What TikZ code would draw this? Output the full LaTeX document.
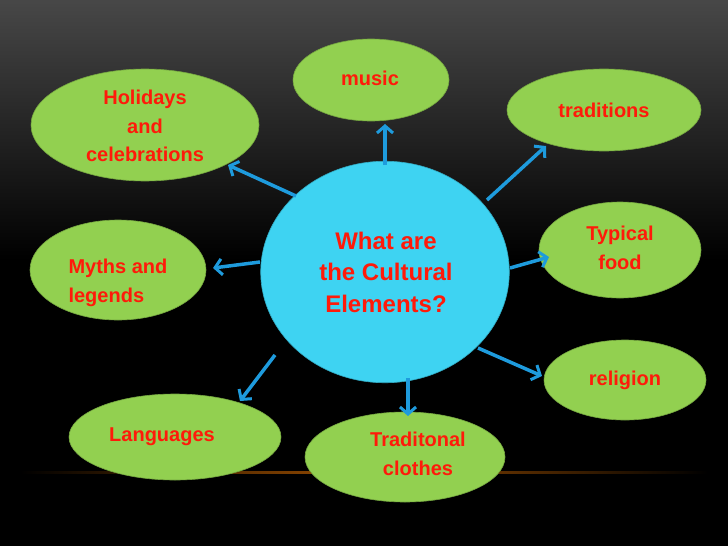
\documentclass[tikz,border=0pt]{standalone}
\usepackage{fontspec}
\setmainfont{Liberation Sans}
\usetikzlibrary{shapes.geometric,arrows.meta}
\definecolor{gr}{HTML}{92D050}
\definecolor{cy}{HTML}{3ED3F2}
\definecolor{ar}{HTML}{1E9BDD}
\definecolor{tx}{HTML}{FF1A0A}
\tikzset{
 el/.style={ellipse,fill=gr,draw=gr!80!black,line width=0.6pt,inner sep=0pt},
 lb/.style={text=tx,font=\fontsize{20}{28.5}\selectfont\bfseries,align=center},
 ar/.style={draw=ar,line width=3.5pt,-{Straight Barb[length=7pt,width=16pt,line width=3pt]}}
}
\begin{document}
\begin{tikzpicture}[x=1pt,y=-1pt]
\fill[black] (0,0) rectangle (728,546);
\shade[top color=black!72,bottom color=black] (0,0) rectangle (728,260);
\useasboundingbox (0,0) rectangle (728,546);
\shade[left color=black,right color=black,middle color=orange!60!black] (20,471) rectangle (708,473);
\node[el,minimum width=228pt,minimum height=112pt] (hol) at (145,125) {};
\node[lb] at (145,126) {Holidays\\and\\celebrations};
\node[el,minimum width=156pt,minimum height=82pt] (mus) at (371,80) {};
\node[lb] at (370,78) {music};
\node[el,minimum width=194pt,minimum height=82pt] (tra) at (604,110) {};
\node[lb] at (604,110) {traditions};
\node[el,minimum width=162pt,minimum height=96pt] (foo) at (620,250) {};
\node[lb] at (620,248) {Typical\\food};
\node[el,minimum width=176pt,minimum height=100pt] (myt) at (118,270) {};
\node[lb,align=left] at (118,283) {Myths and\\ legends};
\node[el,minimum width=162pt,minimum height=80pt] (rel) at (625,380) {};
\node[lb] at (625,380) {religion};
\node[el,minimum width=212pt,minimum height=86pt] (lan) at (175,437) {};
\node[lb] at (162,437) {Languages};
\node[el,minimum width=200pt,minimum height=90pt] (clo) at (405,457) {};
\node[lb] at (418,454) {Traditonal\\clothes};
\node[circle,fill=cy,draw=cy!80!black,line width=0.6pt,minimum width=226pt,xscale=1.1,yscale=0.98] (c) at (385,272) {};
\node[lb,font=\fontsize{24}{31.5}\selectfont\bfseries] at (386,272) {What are\\the Cultural\\Elements?};
\coordinate (a1) at (385,165); \coordinate (b1) at (385,124);
\coordinate (a2) at (296,196); \coordinate (b2) at (228,165);
\coordinate (a3) at (487,200); \coordinate (b3) at (546,146);
\coordinate (a4) at (510,268); \coordinate (b4) at (549,257);
\coordinate (a5) at (260,262); \coordinate (b5) at (213,268);
\coordinate (a6) at (478,348); \coordinate (b6) at (542,376);
\coordinate (a7) at (275,355); \coordinate (b7) at (240,401);
\coordinate (a8) at (408,378); \coordinate (b8) at (408,416);
\foreach \i in {1,...,8} \draw[ar] (a\i) -- (b\i);
\end{tikzpicture}
\end{document}
